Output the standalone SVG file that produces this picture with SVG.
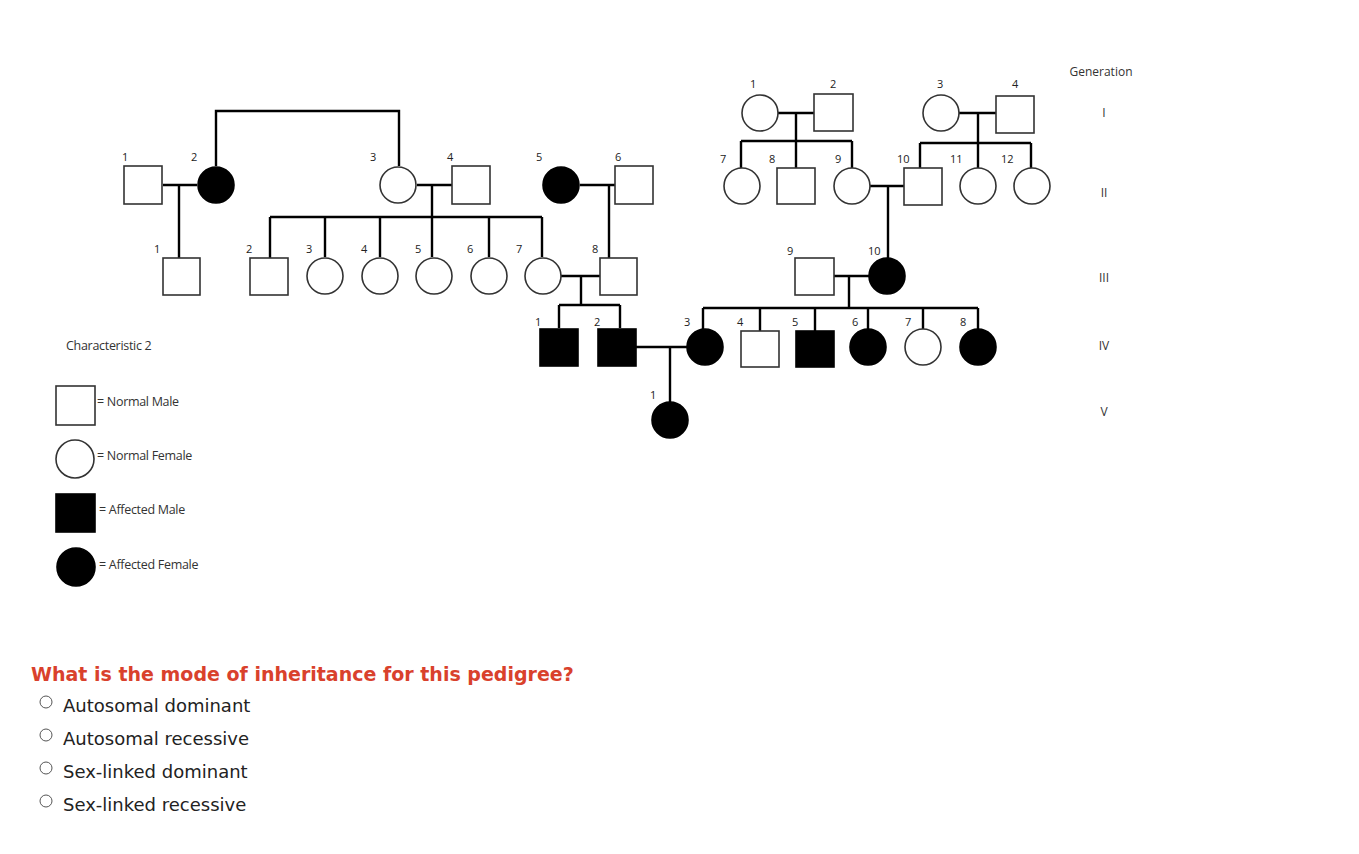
<svg xmlns="http://www.w3.org/2000/svg" width="1359" height="854" viewBox="0 0 1359 854">
<style>
.m{fill:#fff;stroke:#333;stroke-width:1.6}
.a{fill:#000;stroke:#000;stroke-width:1.6}
.l{fill:none;stroke:#000;stroke-width:2.4}
.n{font-family:"Open Sans","Liberation Sans",sans-serif;font-size:11px;fill:#222}
.g{font-family:"Open Sans","Liberation Sans",sans-serif;font-size:12px;fill:#333;text-anchor:middle}
.lg{font-family:"Open Sans","Liberation Sans",sans-serif;font-size:12.5px;fill:#333;letter-spacing:-0.3px}
.q{font-family:"DejaVu Sans",Verdana,sans-serif;font-size:19px;font-weight:bold;fill:#d9412c}
.o{font-family:"DejaVu Sans",Verdana,sans-serif;font-size:18px;fill:#222}
.r{fill:#fff;stroke:#555;stroke-width:1}
</style>
<rect width="1359" height="854" fill="#fff"/>
<g id="connectors" class="l">
<path d="M163 185H197M179 185V258"/>
<path d="M216 166V111H399V166"/>
<path d="M417 185H452M432 185V217M270 217H542M270 217V258M325 217V257M380 217V257M432 217V257M489 217V257M542 217V257"/>
<path d="M580 185H615M609 185V258"/>
<path d="M561 276H600M581 276V305M559 305H620M559 305V328M620 305V328"/>
<path d="M636 347H687M670 347V402"/>
<path d="M778 113H814M796 113V141M741 141H852M741 141V168M796 141V168M852 141V168"/>
<path d="M959 113H996M978 113V143M920 143H1031M920 143V168M978 143V168M1031 143V168"/>
<path d="M870 186H904M888 186V258"/>
<path d="M834 276H869M849 276V308M703 308H978M703 308V329M760 308V331M815 308V331M868 308V329M923 308V329M978 308V329"/>
</g>
<g id="II-1"><rect class="m" x="124" y="166" width="38" height="38"/><text class="n" x="122" y="161">1</text></g>
<g id="II-2"><circle class="a" cx="216" cy="185" r="18"/><text class="n" x="191" y="161">2</text></g>
<g id="II-3"><circle class="m" cx="398" cy="185" r="18"/><text class="n" x="370" y="161">3</text></g>
<g id="II-4"><rect class="m" x="452" y="166" width="38" height="38"/><text class="n" x="447" y="161">4</text></g>
<g id="II-5"><circle class="a" cx="561" cy="185" r="18"/><text class="n" x="536" y="161">5</text></g>
<g id="II-6"><rect class="m" x="615" y="166" width="38" height="38"/><text class="n" x="615" y="161">6</text></g>
<g id="III-1"><rect class="m" x="163" y="258" width="37" height="37"/><text class="n" x="154" y="253">1</text></g>
<g id="III-2"><rect class="m" x="250" y="258" width="38" height="37"/><text class="n" x="246" y="253">2</text></g>
<g id="III-3"><circle class="m" cx="325" cy="276" r="18"/><text class="n" x="306" y="253">3</text></g>
<g id="III-4"><circle class="m" cx="380" cy="276" r="18"/><text class="n" x="361" y="253">4</text></g>
<g id="III-5"><circle class="m" cx="434" cy="276" r="18"/><text class="n" x="415" y="253">5</text></g>
<g id="III-6"><circle class="m" cx="489" cy="276" r="18"/><text class="n" x="467" y="253">6</text></g>
<g id="III-7"><circle class="m" cx="543" cy="276" r="18"/><text class="n" x="516" y="253">7</text></g>
<g id="III-8"><rect class="m" x="600" y="258" width="37" height="37"/><text class="n" x="592" y="253">8</text></g>
<g id="IV-1"><rect class="a" x="540" y="329" width="38" height="37"/><text class="n" x="535" y="326">1</text></g>
<g id="IV-2"><rect class="a" x="598" y="329" width="38" height="37"/><text class="n" x="594" y="326">2</text></g>
<g id="IV-3"><circle class="a" cx="705" cy="347" r="18"/><text class="n" x="684" y="326">3</text></g>
<g id="IV-4"><rect class="m" x="741" y="331" width="38" height="36"/><text class="n" x="737" y="326">4</text></g>
<g id="IV-5"><rect class="a" x="796" y="331" width="38" height="36"/><text class="n" x="792" y="326">5</text></g>
<g id="IV-6"><circle class="a" cx="868" cy="347" r="18"/><text class="n" x="852" y="326">6</text></g>
<g id="IV-7"><circle class="m" cx="923" cy="347" r="18"/><text class="n" x="905" y="326">7</text></g>
<g id="IV-8"><circle class="a" cx="978" cy="347" r="18"/><text class="n" x="960" y="326">8</text></g>
<g id="V-1"><circle class="a" cx="670" cy="420" r="18"/><text class="n" x="650" y="399">1</text></g>
<g id="I-1"><circle class="m" cx="760" cy="113" r="18"/><text class="n" x="750" y="88">1</text></g>
<g id="I-2"><rect class="m" x="814" y="94" width="39" height="37"/><text class="n" x="830" y="88">2</text></g>
<g id="I-3"><circle class="m" cx="941" cy="113" r="18"/><text class="n" x="937" y="88">3</text></g>
<g id="I-4"><rect class="m" x="996" y="96" width="38" height="37"/><text class="n" x="1012" y="88">4</text></g>
<g id="II-7"><circle class="m" cx="742" cy="186" r="18"/><text class="n" x="720" y="163">7</text></g>
<g id="II-8"><rect class="m" x="777" y="168" width="38" height="36"/><text class="n" x="769" y="163">8</text></g>
<g id="II-9"><circle class="m" cx="852" cy="186" r="18"/><text class="n" x="835" y="163">9</text></g>
<g id="II-10"><rect class="m" x="904" y="168" width="38" height="37"/><text class="n" x="897" y="163">10</text></g>
<g id="II-11"><circle class="m" cx="978" cy="186" r="18"/><text class="n" x="950" y="163">11</text></g>
<g id="II-12"><circle class="m" cx="1032" cy="186" r="18"/><text class="n" x="1001" y="163">12</text></g>
<g id="III-9"><rect class="m" x="795" y="258" width="39" height="37"/><text class="n" x="787" y="255">9</text></g>
<g id="III-10"><circle class="a" cx="887" cy="276" r="18"/><text class="n" x="868" y="255">10</text></g>
<g id="generation">
<text class="g" x="1101" y="76">Generation</text>
<text class="g" x="1104" y="117">I</text>
<text class="g" x="1104" y="197">II</text>
<text class="g" x="1104" y="282">III</text>
<text class="g" x="1104" y="350">IV</text>
<text class="g" x="1104" y="416">V</text>
</g>
<g id="legend">
<text class="lg" x="66" y="350">Characteristic 2</text>
<rect class="m" x="56" y="386" width="39" height="39"/><text class="lg" x="97" y="406">= Normal Male</text>
<circle class="m" cx="75" cy="459" r="19"/><text class="lg" x="97" y="460">= Normal Female</text>
<rect class="a" x="56" y="494" width="39" height="38"/><text class="lg" x="99" y="514">= Affected Male</text>
<circle class="a" cx="76" cy="567" r="19"/><text class="lg" x="99" y="569">= Affected Female</text>
</g>
<g id="question">
<text class="q" x="31" y="681">What is the mode of inheritance for this pedigree?</text>
<circle class="r" cx="46" cy="702" r="6"/><text class="o" x="63" y="712">Autosomal dominant</text>
<circle class="r" cx="46" cy="735" r="6"/><text class="o" x="63" y="745">Autosomal recessive</text>
<circle class="r" cx="46" cy="768" r="6"/><text class="o" x="63" y="778">Sex-linked dominant</text>
<circle class="r" cx="46" cy="801" r="6"/><text class="o" x="63" y="811">Sex-linked recessive</text>
</g>
</svg>
